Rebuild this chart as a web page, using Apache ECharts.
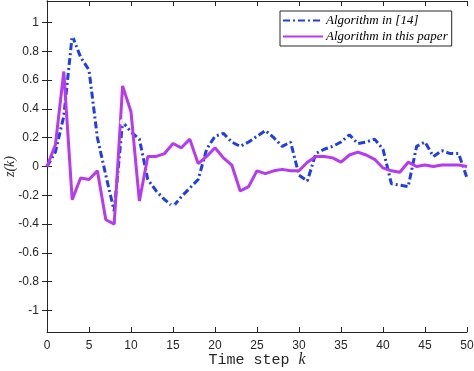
<!DOCTYPE html>
<html>
<head>
<meta charset="utf-8">
<script src="https://cdn.jsdelivr.net/npm/echarts@6/dist/echarts.min.js"></script>
<style>
html,body{margin:0;padding:0;background:#fff;}
#c{width:474px;height:371px;}
</style>
</head>
<body>
<div id="c"></div>
<script>
// ---- data ----
const steps = [0,1,2,3,4,5,6,7,8,9,10,11,12,13,14,15,16,17,18,19,20,21,22,23,24,25,26,27,28,29,30,31,32,33,34,35,36,37,38,39,40,41,42,43,44,45,46,47,48,49,50];
const zRef14 = [0,0.1,0.35,0.91,0.76,0.67,0.2,-0.06,-0.31,0.31,0.24,
  0.19,-0.09,-0.17,-0.23,-0.28,-0.21,-0.15,-0.09,0.12,0.21,
  0.23,0.17,0.14,0.17,0.21,0.25,0.2,0.14,0.17,-0.06,
  -0.10,0.09,0.12,0.14,0.17,0.22,0.16,0.17,0.19,0.12,
  -0.12,-0.13,-0.14,0.14,0.17,0.07,0.11,0.09,0.09,-0.08];
const zThis = [0,0.15,0.66,-0.23,-0.08,-0.09,-0.03,-0.37,-0.40,0.56,0.38,
  -0.24,0.07,0.07,0.09,0.16,0.13,0.19,0.02,0.07,0.13,
  0.06,0.01,-0.17,-0.14,-0.03,-0.05,-0.03,-0.02,-0.03,-0.03,
  0.03,0.07,0.07,0.06,0.03,0.08,0.10,0.08,0.05,-0.01,
  -0.03,-0.04,0.03,0.0,0.01,0.0,0.01,0.01,0.01,0.0];
const markerSteps = [3,9,15];
const yTicks = [-1,-0.8,-0.6,-0.4,-0.2,0,0.2,0.4,0.6,0.8,1];
const seriesNames = ['Algorithm in [14]','Algorithm in this paper'];

// ---- chart ----
const BLUE = '#1f3ee6', PURPLE = '#b63af0', AX = '#262626';
const chart = echarts.init(document.getElementById('c'), null, {renderer:'canvas'});
const pair = arr => steps.map((s,i)=>[s,arr[i]]);
const yCommon = {
  type:'value', min:-1.15, max:1.15,
  axisLine:{show:true, lineStyle:{color:AX,width:1}},
  axisTick:{show:true, inside:true, length:5, customValues:yTicks, lineStyle:{color:AX}},
  splitLine:{show:false}
};
const xCommon = {
  type:'value', min:0, max:50, interval:5,
  axisLine:{show:true, onZero:false, lineStyle:{color:AX,width:1}},
  axisTick:{show:true, inside:true, length:5, lineStyle:{color:AX}},
  splitLine:{show:false}
};
chart.setOption({
  animation:false,
  backgroundColor:'#fff',
  grid:{left:47, right:7, top:1, bottom:39, containLabel:false, outerBoundsMode:'none'},
  xAxis:[
    Object.assign({}, xCommon, {
      position:'bottom',
      axisLabel:{show:true, color:AX, fontFamily:'Liberation Sans', fontSize:12, margin:8},
      name:'{m|Time step }{i|k}', nameLocation:'middle', nameGap:20, nameMoveOverlap:false,
      nameTextStyle:{rich:{
        m:{fontFamily:'Liberation Mono', fontSize:15, color:AX},
        i:{fontFamily:'Liberation Serif', fontStyle:'italic', fontSize:16, color:AX}
      }}
    }),
    Object.assign({}, xCommon, {position:'top', axisLabel:{show:false}})
  ],
  yAxis:[
    Object.assign({}, yCommon, {
      position:'left',
      axisLabel:{show:true, customValues:yTicks, color:AX, fontFamily:'Liberation Sans', fontSize:12, margin:8},
      name:'z(k)', nameLocation:'middle', nameGap:30, nameMoveOverlap:false,
      nameTextStyle:{fontFamily:'Liberation Serif', fontStyle:'italic', fontSize:14, color:AX}
    }),
    Object.assign({}, yCommon, {position:'right', axisLabel:{show:false}})
  ],
  legend:{
    left:280, top:11, orient:'vertical',
    data:seriesNames,
    backgroundColor:'#fff', borderColor:AX, borderWidth:1, borderRadius:0,
    padding:[3,4,3,2], itemGap:3, itemWidth:40, itemHeight:12,
    itemStyle:{opacity:0},
    textStyle:{fontFamily:'Liberation Serif', fontStyle:'italic', fontSize:13, color:'#000', padding:[0,0,0,-2]}
  },
  series:[
    {
      name:seriesNames[0], type:'line', data:pair(zRef14),
      symbol:'none', showSymbol:false,
      lineStyle:{color:BLUE, width:3, type:[7,3,2,3]},
      itemStyle:{color:BLUE}, z:2
    },
    {
      name:seriesNames[1], type:'line', data:pair(zThis),
      symbol:'none', showSymbol:false,
      lineStyle:{color:PURPLE, width:3, type:'solid'},
      itemStyle:{color:PURPLE}, z:3
    },
    {
      name:'markers', type:'scatter',
      data:markerSteps.map(s=>[s, zRef14[steps.indexOf(s)]]),
      symbol:'emptyCircle', symbolSize:4,
      itemStyle:{color:'#fff', borderColor:BLUE, borderWidth:1}, z:4
    }
  ]
});
</script>
</body>
</html>
